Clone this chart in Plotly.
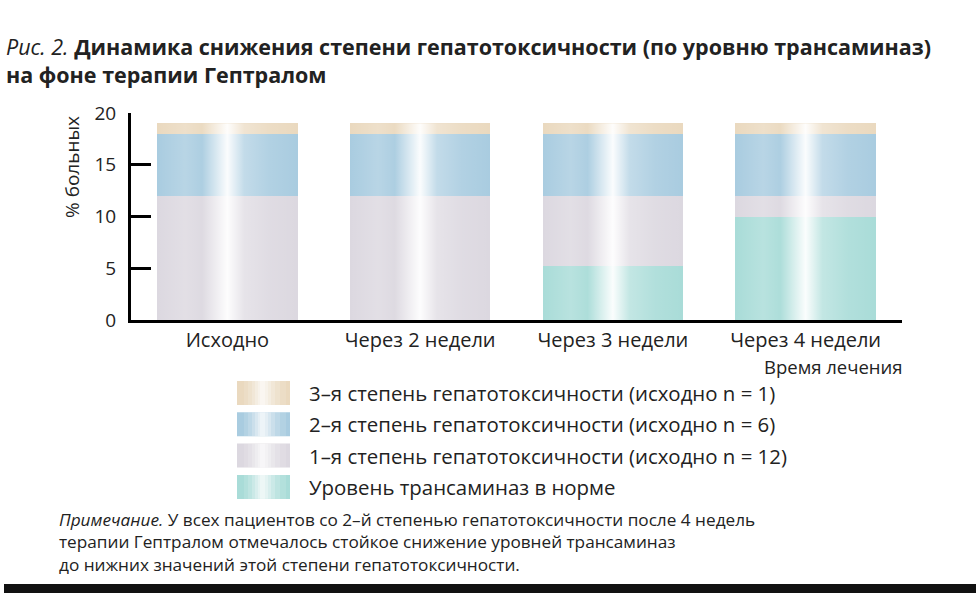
import plotly.graph_objects as go

# data ----------------------------------------------------------------------
categories = ["Исходно", "Через 2 недели", "Через 3 недели", "Через 4 недели"]
norm = [0, 0, 5.2, 10]
grade1 = [12, 12, 6.8, 2]
grade2 = [6, 6, 6, 6]
grade3 = [1, 1, 1, 1]

series_names = [
    "3–я степень гепатотоксичности (исходно n = 1)",
    "2–я степень гепатотоксичности (исходно n = 6)",
    "1–я степень гепатотоксичности (исходно n = 12)",
    "Уровень трансаминаз в норме",
]
colors = ["#ead9bf", "#a9cce0", "#dcd8e0", "#a9dcd8"]

W, H = 976, 594
L, R, T, B = 131, 74, 113, 274
PW, PH = W - L - R, H - T - B
BAR_W = 0.73
FONT = "Open Sans, Noto Sans, sans-serif"


def px_x(p):
    return (p - L) / PW


def px_y(p):
    return (H - B - p) / PH


x = list(range(len(categories)))
fig = go.Figure()

# stacked bars, bottom to top
for vals, name, col in [
    (norm, series_names[3], colors[3]),
    (grade1, series_names[2], colors[2]),
    (grade2, series_names[1], colors[1]),
    (grade3, series_names[0], colors[0]),
]:
    fig.add_trace(go.Bar(x=x, y=vals, name=name, width=BAR_W,
                         marker=dict(color=col, line=dict(width=0)),
                         showlegend=False))

# glossy highlight over every bar
shine = [[0, "rgba(255,255,255,0)"], [0.2, "rgba(255,255,255,0.18)"],
         [0.32, "rgba(255,255,255,0.05)"], [0.5, "rgba(255,255,255,0.95)"],
         [0.62, "rgba(255,255,255,0.3)"], [0.8, "rgba(255,255,255,0.1)"],
         [1, "rgba(255,255,255,0)"]]
for i in x:
    top = norm[i] + grade1[i] + grade2[i] + grade3[i]
    x0, x1 = i - BAR_W / 2, i + BAR_W / 2
    fig.add_trace(go.Scatter(x=[x0, x1, x1, x0, x0], y=[0, 0, top, top, 0],
                             mode="lines", line=dict(width=0), fill="toself",
                             fillgradient=dict(type="horizontal", colorscale=shine),
                             hoverinfo="skip", showlegend=False))

fig.update_layout(
    width=W, height=H,
    margin=dict(l=L, r=R, t=T, b=B),
    plot_bgcolor="white", paper_bgcolor="white",
    font=dict(family=FONT, color="#222"),
    barmode="stack",
)
fig.update_xaxes(range=[-0.5, 3.5], tickvals=x, ticktext=categories,
                 showgrid=False, zeroline=False, showline=True, linewidth=3,
                 linecolor="black", ticks="", tickfont=dict(size=20, color="#222"),
                 layer="below traces")
fig.update_yaxes(range=[0, 20], tickvals=[0, 5, 10, 15, 20], showgrid=False,
                 zeroline=False, showline=True, linewidth=3, linecolor="black",
                 ticks="inside", ticklen=20, tickwidth=2.5, tickcolor="black",
                 ticklabelstandoff=8, tickfont=dict(size=19, color="#222"))

ann = []
ann.append(dict(xref="paper", yref="paper", x=px_x(4), y=px_y(30), xanchor="left", yanchor="top",
                align="left", showarrow=False, font=dict(size=21.5, color="#222"),
                text="<i>Рис. 2.</i> <b>Динамика снижения степени гепатотоксичности (по уровню трансаминаз)</b>"
                     "<br><b>на фоне терапии Гептралом</b>"))
ann.append(dict(xref="paper", yref="paper", x=px_x(72), y=px_y(167), xanchor="center",
                yanchor="middle", textangle=-90, showarrow=False,
                font=dict(size=19, color="#222"), text="% больных"))
ann.append(dict(xref="paper", yref="paper", x=px_x(905), y=px_y(366), xanchor="right",
                yanchor="middle", showarrow=False, font=dict(size=18.5, color="#222"),
                text="Время лечения"))

# legend drawn by hand, swatches with a similar highlight
shapes = []
glow = [(244, 286, 0.12), (248, 280, 0.15), (252, 275, 0.2),
        (255, 271, 0.25), (258, 268, 0.3), (260, 265, 0.35)]
for k, (name, col) in enumerate(zip(series_names, colors)):
    yc = 393 + k * 31.3
    shapes.append(dict(type="rect", xref="paper", yref="paper",
                       x0=px_x(237), x1=px_x(290), y0=px_y(yc - 12), y1=px_y(yc + 12),
                       fillcolor=col, line=dict(width=0)))
    for gx0, gx1, a in glow:
        shapes.append(dict(type="rect", xref="paper", yref="paper",
                           x0=px_x(gx0), x1=px_x(gx1), y0=px_y(yc - 12), y1=px_y(yc + 12),
                           fillcolor=f"rgba(255,255,255,{a})", line=dict(width=0)))
    ann.append(dict(xref="paper", yref="paper", x=px_x(307), y=px_y(yc), xanchor="left",
                    yanchor="middle", showarrow=False, font=dict(size=20.4, color="#222"),
                    text=name))

ann.append(dict(xref="paper", yref="paper", x=px_x(57), y=px_y(506), xanchor="left", yanchor="top",
                align="left", showarrow=False, font=dict(size=17.2, color="#222"),
                text="<i>Примечание.</i> У всех пациентов со 2–й степенью гепатотоксичности после 4 недель"
                     "<br>терапии Гептралом отмечалось стойкое снижение уровней трансаминаз"
                     "<br>до нижних значений этой степени гепатотоксичности."))

shapes.append(dict(type="rect", xref="paper", yref="paper", x0=px_x(4), x1=px_x(976),
                   y0=px_y(593), y1=px_y(584), fillcolor="#111", line=dict(width=0)))

fig.update_layout(annotations=ann, shapes=shapes)
fig.write_html("out.html", config={"displayModeBar": False},
               post_script="document.body.style.margin='0';")
